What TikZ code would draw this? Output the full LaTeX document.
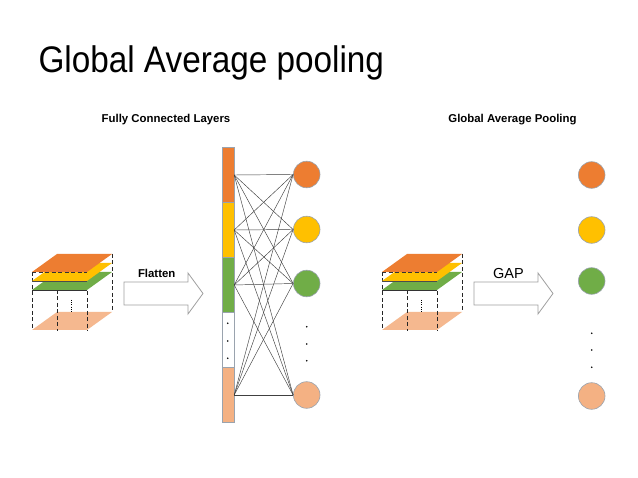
\documentclass[tikz,border=0pt]{standalone}
\usepackage{fontspec}
\setmainfont{Liberation Sans}
\definecolor{cor}{HTML}{ED7D31}
\definecolor{cye}{HTML}{FFC000}
\definecolor{cgr}{HTML}{70AD47}
\definecolor{csa}{HTML}{F4B183}
\definecolor{cout}{HTML}{9AA3AE}
\definecolor{arrowgray}{HTML}{A0A0A0}
\tikzset{
  seg/.style={draw=cout, line width=0.5pt, minimum width=12pt, minimum height=55pt, inner sep=0pt, outer sep=0pt},
  neuron/.style={circle, draw=cout, line width=0.6pt, minimum size=26.6pt, inner sep=0pt},
  conn/.style={draw=black!75, line width=0.45pt},
  vdash/.style={draw=black!85, line width=0.8pt, dash pattern=on 4pt off 2.5pt},
  lbl/.style={font=\bfseries\fontsize{11.4}{13}\selectfont, inner sep=0pt},
  dotc/.style={circle, fill=black, inner sep=0pt, minimum size=1.8pt},
  bigarrow/.style={draw=arrowgray, fill=white, line width=0.8pt, line join=miter}
}
\newcommand{\mycube}[1]{%
  \begin{scope}[xshift=#1]
    \fill[csa, opacity=0.9] (32,330) -- (87,330) -- (112,312) -- (57,312) -- cycle;
    \draw[vdash] (32,272) -- (32,330);
    \draw[vdash] (57.7,290) -- (57.7,331);
    \draw[vdash] (87,272) -- (87,331);
    \draw[vdash] (112,254) -- (112,312);
    \draw[black, line width=0.9pt, dash pattern=on 1pt off 1.2pt] (71.7,300) -- (71.7,312);
    \fill[cgr] (32,290) -- (87,290) -- (112,272) -- (57,272) -- cycle;
    \fill[cye] (32,281) -- (87,281) -- (112,263) -- (57,263) -- cycle;
    \fill[cor] (32,272) -- (87,272) -- (112,254) -- (57,254) -- cycle;
    \draw[black!70, line width=0.5pt] (32,281) -- (87,281);
    \draw[black!80, line width=0.6pt] (32,290) -- (87,290);
    \draw[black!80, line width=0.6pt, dash pattern=on 4pt off 2.5pt] (32,272) -- (87,272);
  \end{scope}}
\begin{document}
\begin{tikzpicture}[x=1pt, y=-1pt]
\useasboundingbox (0,0) rectangle (638,478);
\fill[white] (0,0) rectangle (638,478);

% title
\node[anchor=base west, inner sep=0pt] (title) at (38.3,72.3)
  {\scalebox{0.9}[1]{\fontsize{37}{40}\selectfont Global Average pooling}};

% section labels
\node[lbl] (fcl) at (166,120) {Fully Connected Layers};
\node[lbl] (gapl) at (512.5,120) {Global Average Pooling};

% left cube and arrow
\mycube{0}
\draw[bigarrow] (124,282) -- (188,282) -- (188,273) -- (203,293.5) -- (188,314) -- (188,305) -- (124,305) -- cycle;
\node[lbl] (flat) at (156.7,273.3) {Flatten};

% column
\node[seg, fill=cor] (s1) at (228.2,175) {};
\node[seg, fill=cye] (s2) at (228.2,230) {};
\node[seg, fill=cgr] (s3) at (228.2,285) {};
\node[seg, fill=white] (s4) at (228.2,340) {};
\node[seg, fill=csa] (s5) at (228.2,395) {};
\node[dotc] (d1) at (227.7,323.3) {};
\node[dotc] (d2) at (227.7,341) {};
\node[dotc] (d3) at (227.7,358.3) {};

% neurons
\node[neuron, fill=cor] (n1) at (306.7,174.5) {};
\node[neuron, fill=cye] (n2) at (306.7,229.5) {};
\node[neuron, fill=cgr] (n3) at (306.7,283.5) {};
\node[neuron, fill=csa] (n4) at (306.7,395) {};
\node[dotc] (e1) at (306.7,326.7) {};
\node[dotc] (e2) at (306.7,344) {};
\node[dotc] (e3) at (306.7,360.7) {};

\foreach \s in {s1,s2,s3,s5}{
  \foreach \n in {n1,n2,n3,n4}{
    \draw[conn] (\s.east) -- (\n.west);
  }
}

% right cube and arrow
\mycube{350}
\draw[bigarrow] (474,282) -- (538,282) -- (538,273) -- (553,293.5) -- (538,314) -- (538,305) -- (474,305) -- cycle;
\node[inner sep=0pt, font=\fontsize{14.5}{16}\selectfont] (gap) at (508.5,273.3) {GAP};

% pooled outputs
\node[neuron, fill=cor] (p1) at (591.7,175) {};
\node[neuron, fill=cye] (p2) at (591.7,230) {};
\node[neuron, fill=cgr] (p3) at (591.7,281) {};
\node[neuron, fill=csa] (p4) at (591.7,396) {};
\node[dotc] (f1) at (591.7,333.3) {};
\node[dotc] (f2) at (591.7,350) {};
\node[dotc] (f3) at (591.7,367.3) {};
\end{tikzpicture}
\end{document}
